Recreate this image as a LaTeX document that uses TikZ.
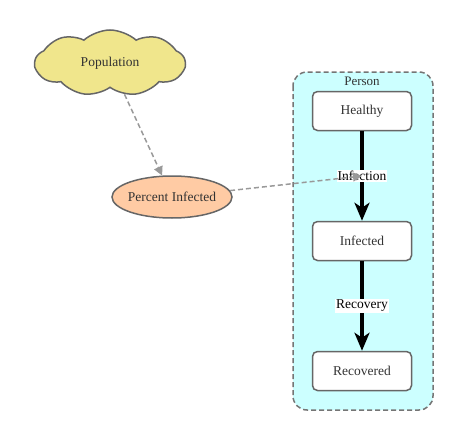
\documentclass[tikz,border=0pt]{standalone}
\usepackage{fontspec}
\setmainfont{Liberation Serif}
\usetikzlibrary{shapes.symbols, shapes.geometric, arrows.meta}

\definecolor{khaki}{HTML}{F0E68C}
\definecolor{peach}{HTML}{FFCBA4}
\definecolor{lightcyan}{HTML}{CCFFFF}
\definecolor{borda}{HTML}{666666}
\definecolor{cinza}{HTML}{999999}

\tikzset{
	estado/.style={draw=borda, line width=1.5pt, rounded corners=5pt, fill=white,
		minimum width=99pt, minimum height=39pt, text=black!80, font=\fontsize{13.5}{15}\selectfont},
	fluxo/.style={line width=3.5pt, -{Stealth[length=18pt, width=15pt, inset=5pt]}},
	rotulo/.style={fill=white, inner sep=1pt, font=\fontsize{13.5}{15}\selectfont},
	elo/.style={draw=cinza, line width=1.5pt, dash pattern=on 5pt off 3pt,
		-{Triangle[length=9pt, width=9pt]}, cinza}
}

\begin{document}
\begin{tikzpicture}[x=1pt, y=-1pt]
	
		\useasboundingbox (0, 0) rectangle (456, 434);
		
		% Agente
		
		\draw[fill=lightcyan, draw=borda!90, line width=1.5pt, dash pattern=on 5pt off 3pt, rounded corners=14pt] (293, 72) rectangle (433, 410);
		
		\draw node[text=black!80, font=\fontsize{13}{15}\selectfont] (person) at (362, 81) {Person} ;
		
		\draw node[estado] (healthy) at (362, 111) {Healthy} ;
		
		\draw node[estado] (infected) at (362, 241) {Infected} ;
		
		\draw node[estado] (recovered) at (362, 371) {Recovered} ;
		
		\draw[fluxo] (healthy) -- node[rotulo] (infection) {Infection} (infected);
		
		\draw[fluxo] (infected) -- node[rotulo] (recovery) {Recovery} (recovered);
		
		% Estoque e variavel
		
		\draw node[cloud, cloud puffs=9, cloud puff arc=85, aspect=2.4, draw=borda, line width=1.5pt, fill=khaki,
			minimum width=150pt, minimum height=66pt, inner sep=0pt, text=black!80, font=\fontsize{13.5}{15}\selectfont] (population) at (110, 63) {Population} ;
		
		\draw node[ellipse, draw=borda, line width=1.5pt, fill=peach, minimum width=120pt, minimum height=42pt,
			inner xsep=-4pt, inner ysep=0pt, text=black!80, font=\fontsize{13.5}{15}\selectfont] (percent) at (172, 197) {Percent Infected} ;
		
		\draw[elo] (population) -- (percent);
		
		\draw[elo] (percent) -- (infection.center);
		
	\end{tikzpicture}
\end{document}
